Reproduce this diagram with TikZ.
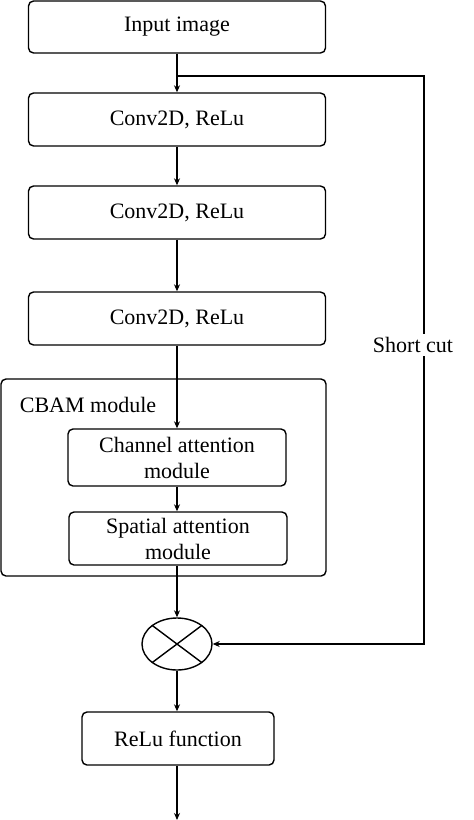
\documentclass[tikz,border=0pt]{standalone}
\usepackage{fontspec}
\setmainfont{Liberation Serif}
\usetikzlibrary{shapes.geometric,arrows.meta}
\begin{document}
\begin{tikzpicture}[x=1pt,y=-1pt,
  every node/.style={font=\fontsize{22}{26}\selectfont, inner sep=0pt},
  box/.style={draw, line width=1.4pt, rounded corners=5pt, align=center},
  conn/.style={line width=1.4pt, -{Stealth[length=7pt,width=6pt]}},
  plain/.style={line width=1.4pt}]
\useasboundingbox (0,0) rectangle (474,820);
\node[box, minimum width=297pt, minimum height=52pt] (in) at (177,27) {Input image};
\node[box, minimum width=297pt, minimum height=53pt] (c1) at (177,119.5) {Conv2D, ReLu};
\node[box, minimum width=297pt, minimum height=53pt] (c2) at (177,212.5) {Conv2D, ReLu};
\node[box, minimum width=297pt, minimum height=53pt] (c3) at (177,318.5) {Conv2D, ReLu};
\node[box, minimum width=325pt, minimum height=197pt] (cbam) at (163.5,477.5) {};
\node (cbl) at (88,405) {CBAM module};
\node[box, minimum width=218pt, minimum height=57pt] (ch) at (177,457.5) {Channel attention\\module};
\node[box, minimum width=218pt, minimum height=53pt] (sp) at (178,538.5) {Spatial attention\\module};
\node[draw, ellipse, line width=1.4pt, minimum width=70pt, minimum height=52pt] (mul) at (177,644) {};
\draw[plain] (mul.north west) -- (mul.south east) (mul.north east) -- (mul.south west);
\node[box, minimum width=192pt, minimum height=53pt] (relu) at (178,738.5) {ReLu function};
\coordinate (br) at (177,76);
\coordinate (rt) at (424,76);
\coordinate (rb) at (424,644);
\coordinate (out) at (177,820);
\draw[conn] (in) -- (c1);
\draw[conn] (c1) -- (c2);
\draw[conn] (c2) -- (c3);
\draw[conn] (c3) -- (c3 |- ch.north);
\draw[conn] (ch.south -| 177,0) -- (sp.north -| 177,0);
\draw[conn] (sp.south -| 177,0) -- (mul);
\draw[conn] (mul) -- (mul |- relu.north);
\draw[conn] (relu.south -| 177,0) -- (out);
\draw[conn] (br) -- (rt) -- (rb) -- (mul.east);
\node[fill=white, inner ysep=3pt] (sc) at (413,345) {Short cut};
\end{tikzpicture}
\end{document}
